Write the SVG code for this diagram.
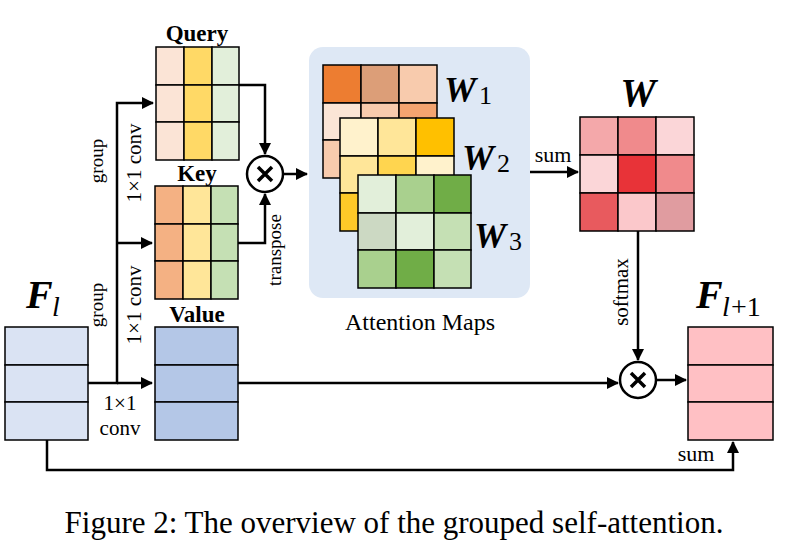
<svg xmlns="http://www.w3.org/2000/svg" width="789" height="542" viewBox="0 0 789 542">
<defs>
<marker id="ah" markerWidth="12" markerHeight="12" refX="11" refY="6" orient="auto" markerUnits="userSpaceOnUse" viewBox="0 0 12 12"><path d="M0,0 L12,6 L0,12 z" fill="#000"/></marker>
<style>
.g rect{stroke:#000;stroke-width:1.5}
.t{font-family:"Liberation Serif",serif;fill:#000}
.b{font-weight:bold}
.ln{fill:none;stroke:#000;stroke-width:2.5}
</style>
</defs>
<rect width="789" height="542" fill="#fff"/>
<g id="Fl" class="g">
<rect x="5" y="327" width="83" height="38" fill="#dae3f3"/><rect x="5" y="365" width="83" height="37" fill="#dae3f3"/><rect x="5" y="402" width="83" height="38" fill="#dae3f3"/>
<text x="26" y="308" class="t b" font-size="40" font-style="italic">F</text><text x="52" y="316" class="t" font-size="28" font-style="italic">l</text>
</g>
<g id="Query" class="g">
<text x="197" y="41" class="t b" font-size="23" text-anchor="middle">Query</text>
<rect x="156" y="47" width="28" height="38" fill="#fbe4d6"/><rect x="184" y="47" width="28" height="38" fill="#ffd966"/><rect x="212" y="47" width="27" height="38" fill="#e2efda"/>
<rect x="156" y="85" width="28" height="37" fill="#fbe4d6"/><rect x="184" y="85" width="28" height="37" fill="#ffd966"/><rect x="212" y="85" width="27" height="37" fill="#e2efda"/>
<rect x="156" y="122" width="28" height="38" fill="#fbe4d6"/><rect x="184" y="122" width="28" height="38" fill="#ffd966"/><rect x="212" y="122" width="27" height="38" fill="#e2efda"/>
</g>
<g id="Key" class="g">
<text x="197" y="181" class="t b" font-size="23" text-anchor="middle">Key</text>
<rect x="155" y="186" width="28" height="38" fill="#f4b183"/><rect x="183" y="186" width="28" height="38" fill="#ffe699"/><rect x="211" y="186" width="27" height="38" fill="#c5e0b4"/>
<rect x="155" y="224" width="28" height="37" fill="#f4b183"/><rect x="183" y="224" width="28" height="37" fill="#ffe699"/><rect x="211" y="224" width="27" height="37" fill="#c5e0b4"/>
<rect x="155" y="261" width="28" height="38" fill="#f4b183"/><rect x="183" y="261" width="28" height="38" fill="#ffe699"/><rect x="211" y="261" width="27" height="38" fill="#c5e0b4"/>
</g>
<g id="Value" class="g">
<text x="197" y="322" class="t b" font-size="23" text-anchor="middle">Value</text>
<rect x="155" y="327" width="83" height="38" fill="#b4c7e7"/><rect x="155" y="365" width="83" height="37" fill="#b4c7e7"/><rect x="155" y="402" width="83" height="38" fill="#b4c7e7"/>
</g>
<g id="mul1"><circle cx="265" cy="174" r="18" fill="#fff" stroke="#000" stroke-width="2.5"/><path d="M258,167 L272,181 M272,167 L258,181" stroke="#000" stroke-width="3.5"/></g>
<g id="attention">
<rect x="309" y="47" width="221" height="251" rx="14" fill="#dee8f5"/>
<g class="g">
<rect x="323" y="65" width="38" height="38" fill="#ed7d31"/><rect x="361" y="65" width="38" height="38" fill="#dc9e78"/><rect x="399" y="65" width="38" height="38" fill="#f8cbad"/>
<rect x="323" y="103" width="38" height="37" fill="#fbe5d6"/><rect x="361" y="103" width="38" height="37" fill="#f8cbad"/><rect x="399" y="103" width="38" height="37" fill="#f4a470"/>
<rect x="323" y="140" width="38" height="38" fill="#f8cbad"/><rect x="361" y="140" width="38" height="38" fill="#f8cbad"/><rect x="399" y="140" width="38" height="38" fill="#f8cbad"/>
<rect x="340" y="118" width="38" height="38" fill="#fff2cc"/><rect x="378" y="118" width="38" height="38" fill="#ffe699"/><rect x="416" y="118" width="38" height="38" fill="#ffc000"/>
<rect x="340" y="156" width="38" height="37" fill="#ffe699"/><rect x="378" y="156" width="38" height="37" fill="#ffd54f"/><rect x="416" y="156" width="38" height="37" fill="#fff2cc"/>
<rect x="340" y="193" width="38" height="38" fill="#ffc928"/><rect x="378" y="193" width="38" height="38" fill="#ffd966"/><rect x="416" y="193" width="38" height="38" fill="#ffe699"/>
<rect x="358" y="175" width="38" height="38" fill="#e2efda"/><rect x="396" y="175" width="38" height="38" fill="#a9d08e"/><rect x="434" y="175" width="37" height="38" fill="#70ad47"/>
<rect x="358" y="213" width="38" height="37" fill="#ccd9c3"/><rect x="396" y="213" width="38" height="37" fill="#e2efda"/><rect x="434" y="213" width="37" height="37" fill="#c5e0b4"/>
<rect x="358" y="250" width="38" height="38" fill="#a9d08e"/><rect x="396" y="250" width="38" height="38" fill="#70ad47"/><rect x="434" y="250" width="37" height="38" fill="#c5e0b4"/>
</g>
<text x="444" y="102" class="t b" font-size="36" font-style="italic">W</text><text x="479" y="104" class="t" font-size="26">1</text>
<text x="462" y="170" class="t b" font-size="36" font-style="italic">W</text><text x="497" y="172" class="t" font-size="26">2</text>
<text x="474" y="248" class="t b" font-size="36" font-style="italic">W</text><text x="509" y="250" class="t" font-size="26">3</text>
<text x="420" y="330" class="t" font-size="24" text-anchor="middle">Attention Maps</text>
</g>
<g id="W" class="g">
<text x="638" y="106" class="t b" font-size="40" font-style="italic" text-anchor="middle">W</text>
<rect x="580" y="117" width="38" height="38" fill="#f4a8aa"/><rect x="618" y="117" width="38" height="38" fill="#f08a8c"/><rect x="656" y="117" width="38" height="38" fill="#fbd6d8"/>
<rect x="580" y="155" width="38" height="38" fill="#fbd6d8"/><rect x="618" y="155" width="38" height="38" fill="#e83338"/><rect x="656" y="155" width="38" height="38" fill="#f08a8c"/>
<rect x="580" y="193" width="38" height="38" fill="#e85a5e"/><rect x="618" y="193" width="38" height="38" fill="#fbc8cb"/><rect x="656" y="193" width="38" height="38" fill="#e09ca0"/>
</g>
<g id="mul2"><circle cx="638" cy="380" r="18" fill="#fff" stroke="#000" stroke-width="2.5"/><path d="M631,373 L645,387 M645,373 L631,387" stroke="#000" stroke-width="3.5"/></g>
<g id="Fl1" class="g">
<text x="696" y="308" class="t b" font-size="40" font-style="italic">F</text><text x="722" y="316" class="t" font-size="28" font-style="italic">l</text><text x="731" y="316" class="t" font-size="28">+1</text>
<rect x="688" y="327" width="85" height="38" fill="#ffc0c4"/><rect x="688" y="365" width="85" height="37" fill="#ffc0c4"/><rect x="688" y="402" width="85" height="38" fill="#ffc0c4"/>
</g>
<g id="connectors">
<path class="ln" d="M88,383 L117,383 L117,103 L153,103" marker-end="url(#ah)"/>
<path class="ln" d="M117,243 L152,243" marker-end="url(#ah)"/>
<path class="ln" d="M117,383 L152,383" marker-end="url(#ah)"/>
<path class="ln" d="M239,85 L265,85 L265,154" marker-end="url(#ah)"/>
<path class="ln" d="M238,243 L265,243 L265,194" marker-end="url(#ah)"/>
<path class="ln" d="M283,174 L307,174" marker-end="url(#ah)"/>
<path class="ln" d="M530,172 L578,172" marker-end="url(#ah)"/>
<path class="ln" d="M638,231 L638,360" marker-end="url(#ah)"/>
<path class="ln" d="M238,383 L618,383" marker-end="url(#ah)"/>
<path class="ln" d="M656,380 L686,380" marker-end="url(#ah)"/>
<path class="ln" d="M47,440 L47,470 L733,470 L733,442" marker-end="url(#ah)"/>
<text class="t" font-size="19" transform="translate(103,161) rotate(-90)" text-anchor="middle">group</text>
<text class="t" font-size="19" transform="translate(103,305) rotate(-90)" text-anchor="middle">group</text>
<text class="t" font-size="21" transform="translate(141,163) rotate(-90)" text-anchor="middle">1×1 conv</text>
<text class="t" font-size="21" transform="translate(141,305) rotate(-90)" text-anchor="middle">1×1 conv</text>
<text x="120" y="410" class="t" font-size="21" text-anchor="middle">1×1</text>
<text x="120" y="435" class="t" font-size="21" text-anchor="middle">conv</text>
<text class="t" font-size="19" transform="translate(281,250) rotate(-90)" text-anchor="middle">transpose</text>
<text x="553" y="162" class="t" font-size="22" text-anchor="middle">sum</text>
<text class="t" font-size="21" transform="translate(628,292) rotate(-90)" text-anchor="middle">softmax</text>
<text x="696" y="461" class="t" font-size="22" text-anchor="middle">sum</text>
</g>
<text x="394" y="533" class="t" font-size="31" text-anchor="middle">Figure 2: The overview of the grouped self-attention.</text>
</svg>
